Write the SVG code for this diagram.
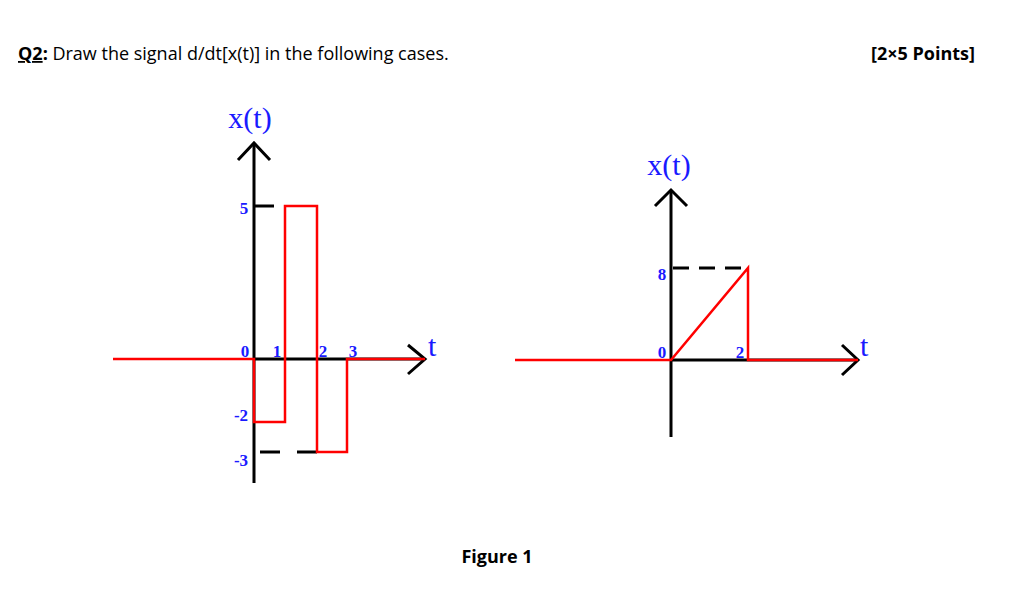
<svg xmlns="http://www.w3.org/2000/svg" width="1035" height="610" viewBox="0 0 1035 610">
<style>
.ax{stroke:#000;stroke-width:3;fill:none}
.sig{stroke:#f00;stroke-width:2.5;fill:none}
.lb{font-family:"Liberation Serif",serif;font-weight:bold;font-size:17px;fill:#1a1aff}
.xt{font-family:"Liberation Serif",serif;font-size:30px;fill:#1a1aff}
.hd{font-family:"Open Sans","Liberation Sans",sans-serif;font-size:18px;fill:#000}
</style>
<rect width="1035" height="610" fill="#fff"/>
<text class="hd" x="18" y="60"><tspan font-weight="bold" text-decoration="underline">Q2</tspan><tspan font-weight="bold">:</tspan> Draw the signal d/dt[x(t)] in the following cases.</text>
<text class="hd" x="975" y="60" text-anchor="end" font-weight="bold">[2×5 Points]</text>
<g id="plot1">
<line class="ax" x1="254" y1="143" x2="254" y2="483"/>
<polyline class="ax" points="238,160 254,143 270,160"/>
<line class="ax" x1="254" y1="359" x2="425" y2="359"/>
<polyline class="ax" points="408,345 425,359 408,374"/>
<line class="ax" x1="254" y1="206" x2="274" y2="206"/>
<line class="ax" x1="260" y1="452" x2="280" y2="452"/>
<line class="ax" x1="297" y1="452" x2="317" y2="452"/>
<polyline class="sig" points="113,359 254,359 254,422 285,422 285,206 317,206 317,452 347,452 347,359 425,359"/>
<text class="xt" x="250" y="128" text-anchor="middle">x(t)</text>
<text class="lb" x="244" y="214" text-anchor="middle">5</text>
<text class="lb" x="245" y="357" text-anchor="middle">0</text>
<text class="lb" x="277" y="357" text-anchor="middle">1</text>
<text class="lb" x="323" y="357" text-anchor="middle">2</text>
<text class="lb" x="353" y="357" text-anchor="middle">3</text>
<text class="lb" x="241" y="421" text-anchor="middle">-2</text>
<text class="lb" x="241" y="466" text-anchor="middle">-3</text>
<text class="xt" x="428" y="356" font-size="24">t</text>
</g>
<g id="plot2">
<line class="ax" x1="671" y1="190" x2="671" y2="437"/>
<polyline class="ax" points="655,206 671,190 687,206"/>
<line class="ax" x1="671" y1="360" x2="858" y2="360"/>
<polyline class="ax" points="842,345 858,360 842,375"/>
<line class="ax" x1="673" y1="268" x2="748" y2="268" stroke-dasharray="16,10"/>
<polyline class="sig" points="515,360 671,360 748,268 748,360 858,360"/>
<text class="xt" x="669" y="175" text-anchor="middle">x(t)</text>
<text class="lb" x="662" y="280" text-anchor="middle">8</text>
<text class="lb" x="662" y="358" text-anchor="middle">0</text>
<text class="lb" x="740" y="358" text-anchor="middle">2</text>
<text class="xt" x="860" y="356" font-size="24">t</text>
</g>
<text class="hd" x="497" y="563" text-anchor="middle" font-weight="bold" font-size="16">Figure 1</text>
</svg>
